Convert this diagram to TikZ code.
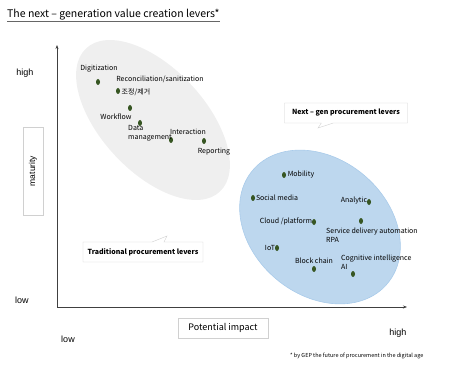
\documentclass[tikz,border=0pt]{standalone}
\usepackage{fontspec}
\setmainfont{Noto Sans CJK KR}
\newfontfamily\axisfont{Liberation Sans}
\usepackage{tikz}
\usetikzlibrary{positioning, arrows.meta, shapes.geometric, shapes.callouts}

\definecolor{dotgreen}{HTML}{375623}
\definecolor{greyfill}{HTML}{EFEFEF}
\definecolor{bluefill}{HTML}{BDD7EE}
\definecolor{blueline}{HTML}{A9CBEA}
\definecolor{boxline}{HTML}{D0D0D0}

\begin{document}
\begin{tikzpicture}[
  x=1pt, y=-1pt,
  font=\fontsize{7}{9}\selectfont,
  dot/.style={ellipse, fill=dotgreen, minimum width=4pt, minimum height=6pt,
              inner sep=0pt},
  lbl/.style={inner sep=0pt, align=left},
  axlbl/.style={font=\axisfont\fontsize{9}{11}\selectfont, inner sep=0pt},
  tagbox/.style={rectangle callout, draw=boxline, fill=white, inner sep=4pt,
                 minimum height=20pt, callout pointer width=12pt,
                 font=\bfseries\fontsize{7}{9}\selectfont},
  axbox/.style={draw=boxline, fill=white, inner sep=3pt},
  ax/.style={draw=black!75, line width=0.8pt}
]
\useasboundingbox (0,0) rectangle (456,369);

% title
\node[anchor=base west, inner sep=0pt, font=\fontsize{10.5}{12}\selectfont]
  (title) at (7,18) {The next -- generation value creation levers*};
\draw[black!60, line width=0.6pt] ([yshift=-3pt]title.base west) -- ([yshift=-3pt]title.base east);

% clusters
\fill[greyfill] (153,120) ellipse [x radius=98, y radius=52, rotate=-47];
\filldraw[fill=bluefill, draw=blueline, line width=0.6pt]
  (320,227) ellipse [x radius=88, y radius=68, rotate=-40];

% axes
\coordinate (orig) at (57,307);
\coordinate (ytop) at (57,45);
\coordinate (xend) at (407,307);
\draw[ax, -{Stealth[length=4pt, width=3pt]}] (orig) -- (ytop);
\draw[ax, -{Stealth[length=4pt, width=3pt]}] (orig) -- (xend);

\node[axlbl] (yhigh) at (25,73) {high};
\node[axlbl] (ylow) at (22,300) {low};
\node[axlbl] (xlow) at (68,339) {low};
\node[axlbl] (xhigh) at (398,333) {high};
\node[axbox, rotate=90, minimum width=88pt, minimum height=20pt,
      font=\axisfont\fontsize{8.5}{10}\selectfont] (maturity) at (33,171) {maturity};
\node[axbox, minimum width=90pt, minimum height=20pt,
      font=\fontsize{9}{11}\selectfont] (impact) at (223,328) {Potential impact};

% traditional levers
\node[dot] (digit) at (98,82) {};
\node[dot] (recon) at (118,91) {};
\node[dot] (workflow) at (130,108) {};
\node[dot] (datamgmt) at (140,123) {};
\node[dot] (interact) at (171,140) {};
\node[dot] (report) at (204,141) {};
\node[lbl] (digit-t) at (99,69) {Digitization};
\node[lbl] (recon-t) at (160,79) {Reconciliation/sanitization};
\node[lbl] (recon-k) at (136,92) {조정/제거};
\node[lbl] (workflow-t) at (116,117) {Workflow};
\node[lbl, anchor=north west] (datamgmt-t) at (128,125) {Data\\management};
\node[lbl] (interact-t) at (188,132) {Interaction};
\node[lbl] (report-t) at (214,152) {Reporting};

% next-gen levers
\node[dot] (mobility) at (284,175) {};
\node[dot] (social) at (253,198) {};
\node[dot] (analytic) at (369,202) {};
\node[dot] (cloud) at (314,222) {};
\node[dot] (sda) at (361,221) {};
\node[dot] (iot) at (277,248) {};
\node[dot] (block) at (314,269) {};
\node[dot] (cogn) at (353,274) {};
\node[lbl] (mobility-t) at (301,175) {Mobility};
\node[lbl] (social-t) at (277,198) {Social media};
\node[lbl] (analytic-t) at (354,201) {Analytic};
\node[lbl] (cloud-t) at (286,221) {Cloud /platform};
\node[lbl, anchor=north west] (sda-t) at (326,228) {Service delivery automation\\RPA};
\node[lbl] (iot-t) at (270,248) {IoT};
\node[lbl] (block-t) at (314,261) {Block chain};
\node[lbl, anchor=north west] (cogn-t) at (341,255) {Cognitive intelligence\\AI};

% callouts
\node[tagbox, minimum width=123pt, callout absolute pointer={(318,128)}]
  (nextgen) at (346,113) {Next -- gen procurement levers};
\node[tagbox, minimum width=120pt, callout absolute pointer={(167,236)}]
  (trad) at (143,252) {Traditional procurement levers};

% source
\node[anchor=west, inner sep=0pt, font=\fontsize{5.5}{7}\selectfont]
  (source) at (290,356) {* by GEP the future of procurement in the digital age};
\end{tikzpicture}
\end{document}
